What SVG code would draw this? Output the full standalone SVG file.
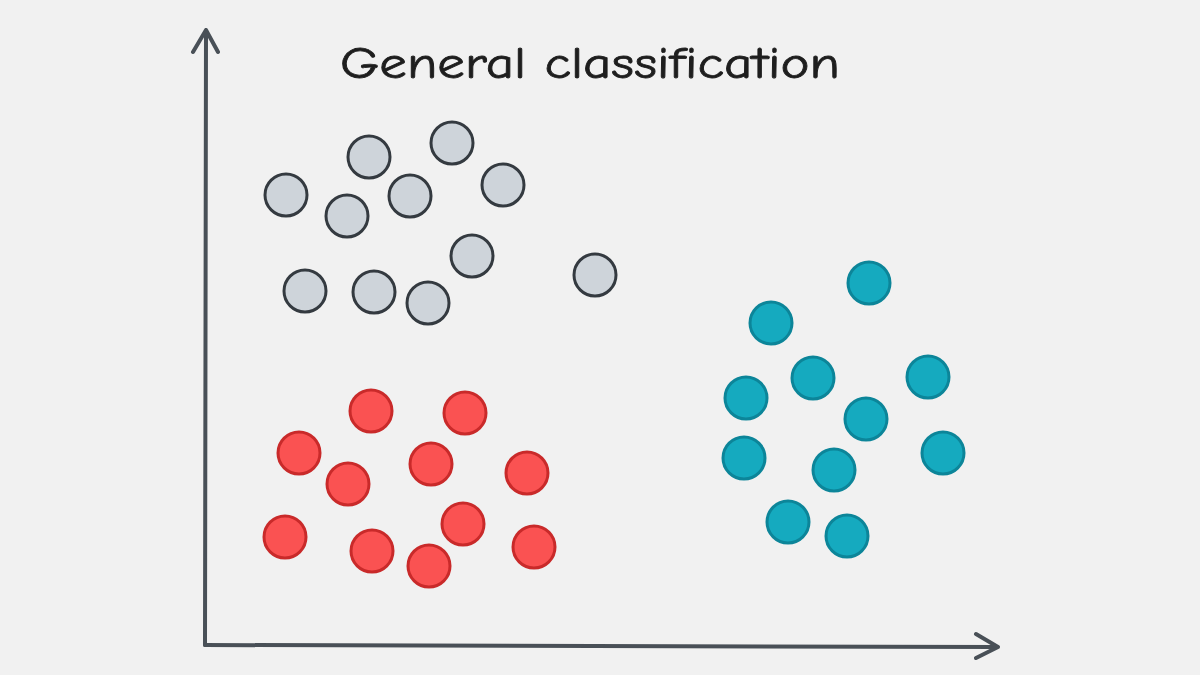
<svg xmlns="http://www.w3.org/2000/svg" width="1200" height="675" viewBox="0 0 1200 675">
<style>
.g{fill:#ced4da;stroke:#343a40;stroke-width:3}
.r{fill:#fa5252;stroke:#c92a2a;stroke-width:3}
.t{fill:#15aabf;stroke:#0c8599;stroke-width:3}
.ax{fill:none;stroke:#495057;stroke-width:4;stroke-linecap:round;stroke-linejoin:round}
</style>
<rect width="1200" height="675" fill="#f1f1f1"/>
<g id="connectors">
<path class="ax" d="M205 645 L206 30 M193 52 L206 30 L218 52"/>
<path class="ax" d="M205 645 L998 647 M976 634 L998 647 L976 658"/>
</g>
<text x="590" y="78" text-anchor="middle" textLength="500" lengthAdjust="spacingAndGlyphs" font-family="'Comic Neue','DejaVu Sans',sans-serif" font-size="44" fill="#1e1e1e" stroke="#1e1e1e" stroke-width="0.8">General classification</text>
<g id="gray">
<circle class="g" cx="286" cy="195" r="21"/><circle class="g" cx="369" cy="157" r="21"/><circle class="g" cx="452" cy="143" r="21"/><circle class="g" cx="503" cy="185" r="21"/><circle class="g" cx="410" cy="196" r="21"/><circle class="g" cx="347" cy="216" r="21"/><circle class="g" cx="472" cy="256" r="21"/><circle class="g" cx="305" cy="291" r="21"/><circle class="g" cx="374" cy="292" r="21"/><circle class="g" cx="428" cy="303" r="21"/><circle class="g" cx="595" cy="275" r="21"/>
</g>
<g id="red">
<circle class="r" cx="371" cy="411" r="21"/><circle class="r" cx="465" cy="413" r="21"/><circle class="r" cx="299" cy="453" r="21"/><circle class="r" cx="431" cy="464" r="21"/><circle class="r" cx="527" cy="473" r="21"/><circle class="r" cx="348" cy="484" r="21"/><circle class="r" cx="463" cy="524" r="21"/><circle class="r" cx="285" cy="537" r="21"/><circle class="r" cx="372" cy="551" r="21"/><circle class="r" cx="534" cy="547" r="21"/><circle class="r" cx="429" cy="566" r="21"/>
</g>
<g id="teal">
<circle class="t" cx="869" cy="283" r="21"/><circle class="t" cx="771" cy="323" r="21"/><circle class="t" cx="813" cy="378" r="21"/><circle class="t" cx="928" cy="377" r="21"/><circle class="t" cx="746" cy="398" r="21"/><circle class="t" cx="866" cy="419" r="21"/><circle class="t" cx="744" cy="458" r="21"/><circle class="t" cx="943" cy="453" r="21"/><circle class="t" cx="834" cy="470" r="21"/><circle class="t" cx="788" cy="522" r="21"/><circle class="t" cx="847" cy="536" r="21"/>
</g>
</svg>
